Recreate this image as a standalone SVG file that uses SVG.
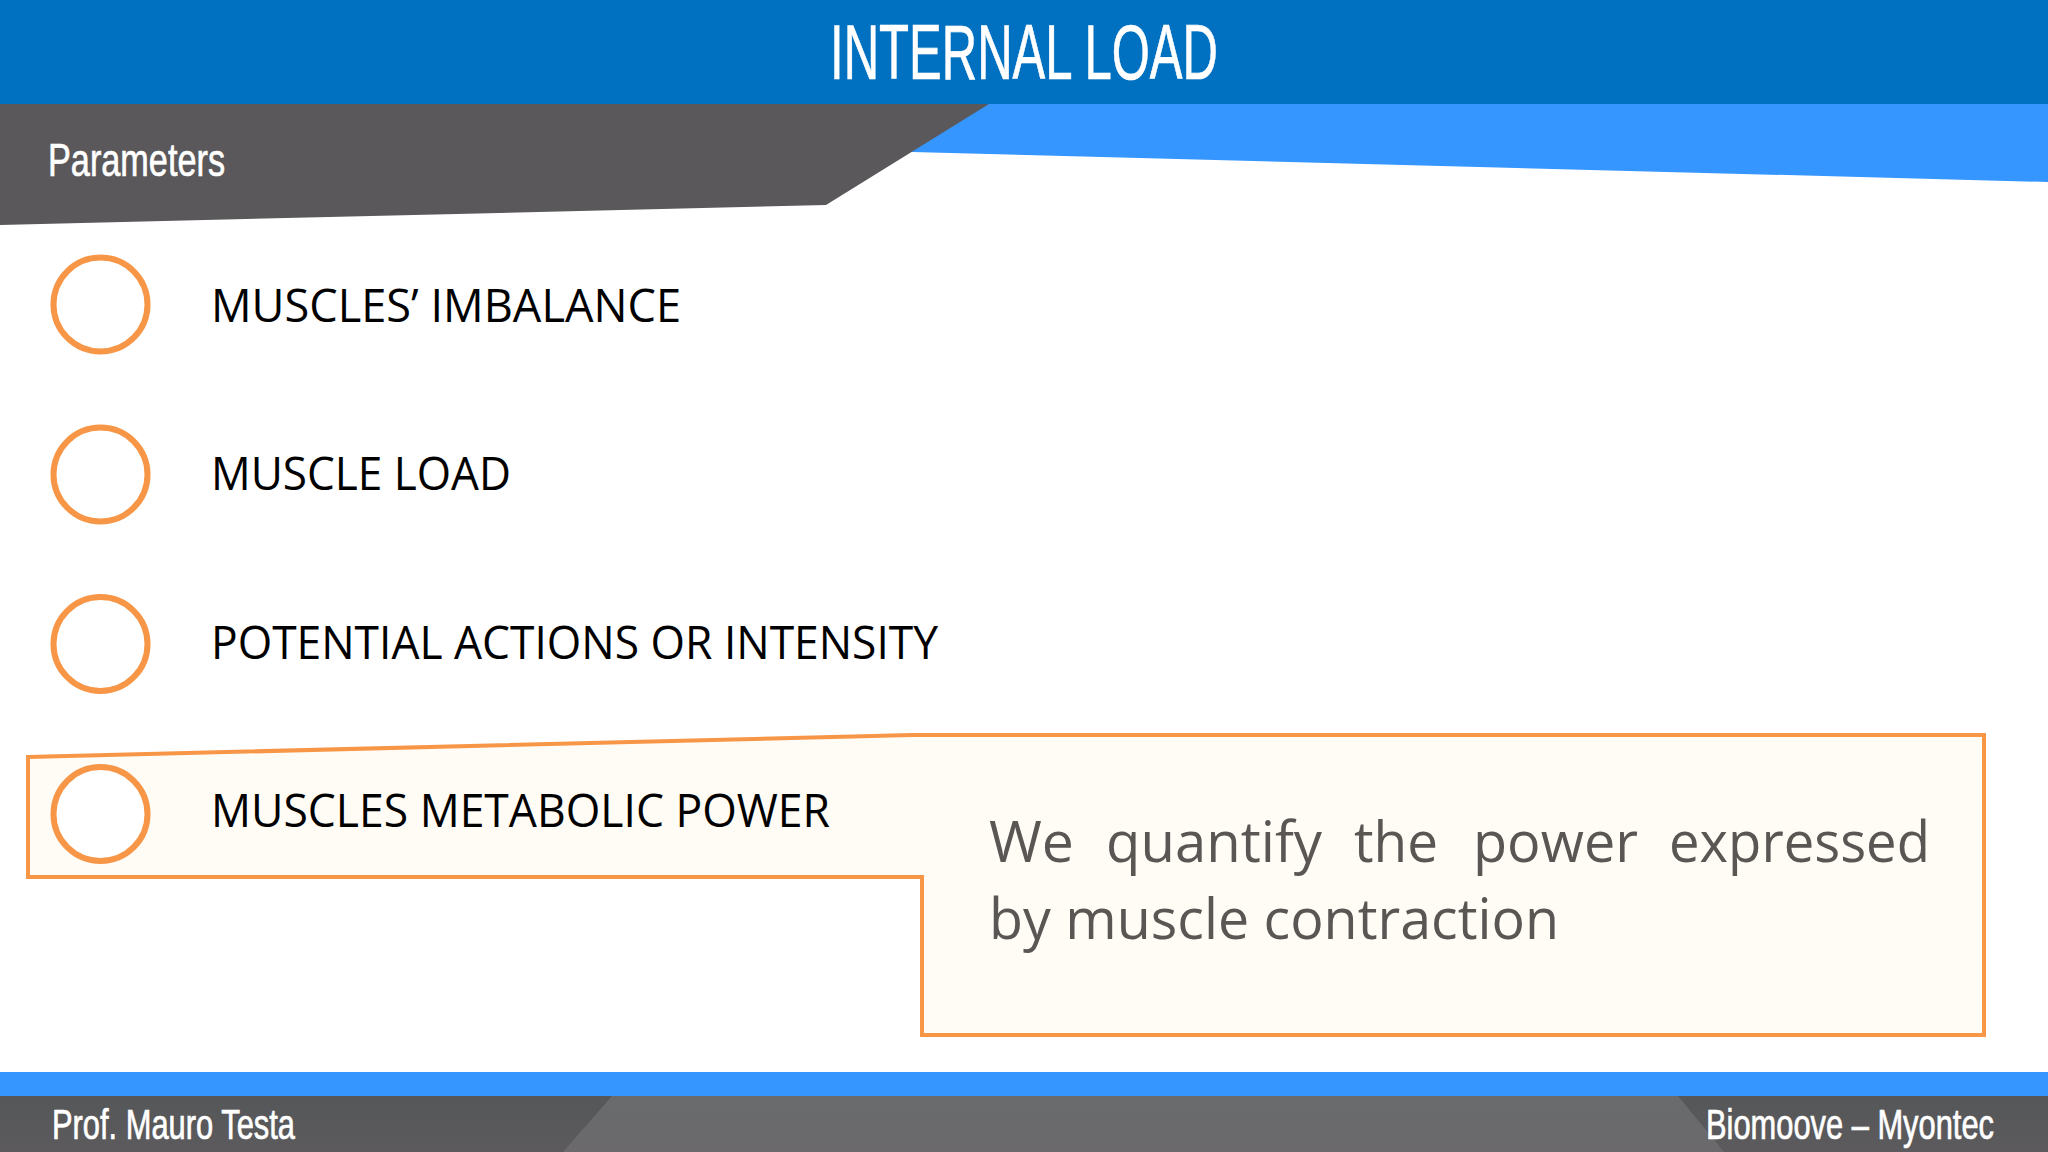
<svg xmlns="http://www.w3.org/2000/svg" width="2048" height="1152" viewBox="0 0 2048 1152">
<defs>
<linearGradient id="foot" x1="0" y1="0" x2="0" y2="1"><stop offset="0" stop-color="#555759"/><stop offset="1" stop-color="#5c5a5d"/></linearGradient>
<linearGradient id="footm" x1="0" y1="0" x2="0" y2="1"><stop offset="0" stop-color="#696b6d"/><stop offset="1" stop-color="#6b696c"/></linearGradient>
</defs>
<style>
.nar{font-family:"Liberation Sans Narrow","Liberation Sans",sans-serif;fill:#fff;stroke:#fff;stroke-width:.7}
.item{font-family:"Open Sans","Noto Sans",sans-serif;font-size:45px;fill:#000}
.body{font-family:"Open Sans","Noto Sans",sans-serif;font-size:57px;fill:#595654}
.ring{fill:#fff;stroke:#f79646;stroke-width:6}
</style>
<rect width="2048" height="1152" fill="#fff"/>
<g id="header">
<polygon points="900,104 2048,104 2048,182 912,152" fill="#3596ff"/>
<rect width="2048" height="104" fill="#0070c0"/>
<polygon points="0,104 989,104 826,205 0,225" fill="#5a585b"/>
<text class="nar" x="830" y="79" font-size="77" textLength="388" lengthAdjust="spacingAndGlyphs">INTERNAL LOAD</text>
<text class="nar" x="48" y="176" font-size="46" textLength="177" lengthAdjust="spacingAndGlyphs">Parameters</text>
</g>
<g id="footer">
<rect y="1072" width="2048" height="24" fill="#3596ff"/>
<rect y="1096" width="2048" height="56" fill="url(#foot)"/>
<polygon points="612,1096 1678,1096 1724,1152 563,1152" fill="url(#footm)"/>
<text class="nar" x="52" y="1139" font-size="42" textLength="243" lengthAdjust="spacingAndGlyphs">Prof. Mauro Testa</text>
<text class="nar" x="1706" y="1139" font-size="42" textLength="288" lengthAdjust="spacingAndGlyphs">Biomoove – Myontec</text>
</g>
<g id="callout">
<polygon points="28,757 912,735 1984,735 1984,1035 922,1035 922,877 28,877" fill="#fffcf6" stroke="#f79646" stroke-width="4"/>
<text class="body" x="989" y="862" textLength="85" lengthAdjust="spacingAndGlyphs">We</text>
<text class="body" x="1106" y="862" textLength="216" lengthAdjust="spacingAndGlyphs">quantify</text>
<text class="body" x="1354" y="862" textLength="84" lengthAdjust="spacingAndGlyphs">the</text>
<text class="body" x="1473" y="862" textLength="165" lengthAdjust="spacingAndGlyphs">power</text>
<text class="body" x="1669" y="862" textLength="261" lengthAdjust="spacingAndGlyphs">expressed</text>
<text class="body" x="989" y="939" textLength="570" lengthAdjust="spacingAndGlyphs">by muscle contraction</text>
</g>
<g id="item1"><circle class="ring" cx="100.5" cy="304.5" r="47"/><text class="item" x="211" y="322" textLength="470" lengthAdjust="spacingAndGlyphs">MUSCLES’ IMBALANCE</text></g>
<g id="item2"><circle class="ring" cx="100.5" cy="474.5" r="47"/><text class="item" x="211" y="490" textLength="300" lengthAdjust="spacingAndGlyphs">MUSCLE LOAD</text></g>
<g id="item3"><circle class="ring" cx="100.5" cy="644" r="47"/><text class="item" x="211" y="659" textLength="727" lengthAdjust="spacingAndGlyphs">POTENTIAL ACTIONS OR INTENSITY</text></g>
<g id="item4"><circle class="ring" cx="100.5" cy="814" r="47"/><text class="item" x="211" y="827" textLength="619" lengthAdjust="spacingAndGlyphs">MUSCLES METABOLIC POWER</text></g>
</svg>
